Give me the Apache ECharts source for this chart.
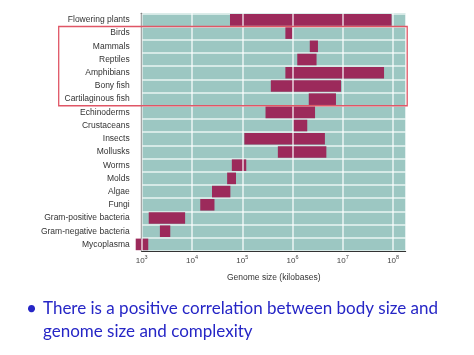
<!DOCTYPE html>
<html><head><meta charset="utf-8">
<script src="https://cdn.jsdelivr.net/npm/echarts@6/dist/echarts.min.js"></script>
<style>html,body{margin:0;padding:0;background:#fff}#c{width:474px;height:355px}</style>
</head><body><div id="c"></div>
<script>
// Categories, top to bottom
const categories = ["Flowering plants","Birds","Mammals","Reptiles","Amphibians","Bony fish","Cartilaginous fish","Echinoderms","Crustaceans","Insects","Mollusks","Worms","Molds","Algae","Fungi","Gram-positive bacteria","Gram-negative bacteria","Mycoplasma"];
// Genome size range (kilobases)
const minKb = [57000,720000,2200000,1240000,720000,370000,2100000,290000,1030000,110000,510000,62000,50000,25000,14600,1380,2300,760];
const maxKb = [93000000,990000,3200000,3000000,66000000,9200000,7300000,2800000,1960000,4400000,4700000,120000,75000,58000,28000,7300,3700,1350];
// Tick exponents (10^n)
const tickExp = [3,4,5,6,7,8];
const xTitle = "Genome size (kilobases)";
const bulletLines = ["There is a positive correlation between body size and","genome size and complexity"];

const chart = echarts.init(document.getElementById('c'));
const data = categories.map((c,i)=>[i, Math.log10(minKb[i]), Math.log10(maxKb[i])]);
const font = "'Liberation Sans', Arial, sans-serif";
chart.setOption({
  animation:false,
  grid:{left:141.7,right:68.3,top:13.3,bottom:104,show:true,backgroundColor:'#9cc7c2',borderWidth:0},
  xAxis:{type:'value',min:3,max:8.25,interval:1,z:10,
    axisLine:{show:true,onZero:false,lineStyle:{color:'#333',width:1}},
    axisTick:{show:false},
    splitLine:{show:true,lineStyle:{color:'rgba(255,255,255,0.8)',width:1.5}},
    axisLabel:{margin:3,showMaxLabel:false,formatter:v=>tickExp.indexOf(v)>=0?('{b|10}{s|'+v+'}'):'',
      rich:{b:{fontSize:8,color:'#444',fontFamily:font,verticalAlign:'bottom',lineHeight:11},
            s:{fontSize:5.5,color:'#444',fontFamily:font,verticalAlign:'top',lineHeight:11}}},
    name:xTitle,nameLocation:'middle',nameGap:22,nameTextStyle:{fontSize:8.5,color:'#333',fontFamily:font}
  },
  yAxis:{type:'category',data:categories,inverse:true,
    axisLine:{show:true,lineStyle:{color:'#222',width:1.2}},
    axisTick:{show:false},
    splitLine:{show:true,lineStyle:{color:'#e8f4f2',width:1.5}},
    axisLabel:{margin:12,fontSize:8.5,color:'#333',fontFamily:font}
  },
  series:[{type:'custom',clip:false,z:2,data:data,
    renderItem:(params,api)=>{
      const yi=api.value(0);
      const s=api.coord([api.value(1),yi]);
      const e=api.coord([api.value(2),yi]);
      const h=api.size([0,1])[1];
      return {type:'rect',shape:{x:s[0],y:s[1]-h/2+0.8,width:e[0]-s[0],height:h-1.6},
        style:{fill:'#9c2a5b'}};
    }}]
});
// Red box annotation around vertebrates (Birds .. Cartilaginous fish)
const yTop = (chart.convertToPixel({yAxisIndex:0},0)+chart.convertToPixel({yAxisIndex:0},1))/2;
const yBot = (chart.convertToPixel({yAxisIndex:0},6)+chart.convertToPixel({yAxisIndex:0},7))/2;
const xRight = chart.convertToPixel({xAxisIndex:0},8.25)+1.5;
chart.setOption({graphic:[
  {type:'rect',z:100,shape:{x:58.7,y:yTop,width:xRight-58.7,height:yBot-yTop},style:{fill:'none',stroke:'#e05666',lineWidth:1.3}},
  {type:'text',left:26,top:299,style:{text:'•',font:"19px Lato, 'Open Sans', sans-serif",fill:'#2626c6'}},
  {type:'text',left:43,top:300,style:{text:bulletLines[0],font:"17px Lato, 'Open Sans', sans-serif",fill:'#2626c6'}},
  {type:'text',left:43,top:323.5,style:{text:bulletLines[1],font:"17px Lato, 'Open Sans', sans-serif",fill:'#2626c6'}}
]});
</script></body></html>
